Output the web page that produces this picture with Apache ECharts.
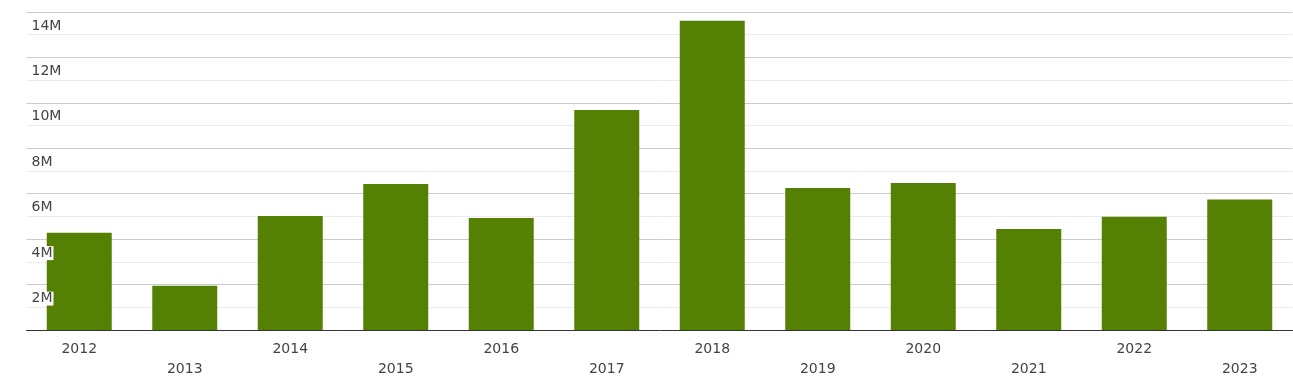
<!DOCTYPE html>
<html><head><meta charset="utf-8">
<script src="https://cdn.jsdelivr.net/npm/echarts@6/dist/echarts.min.js"></script>
<style>html,body{margin:0;padding:0;background:#fff}#c{width:1293px;height:384px}</style>
</head><body><div id="c"></div>
<script>
const categories = ['2012','2013','2014','2015','2016','2017','2018','2019','2020','2021','2022','2023'];
const values = [4280000, 1950000, 5020000, 6430000, 4930000, 9690000, 13620000, 6250000, 6470000, 4450000, 4990000, 5740000];
const yTicks = [0, 2000000, 4000000, 6000000, 8000000, 10000000, 12000000, 14000000];
const yTickLabels = ['', '2M', '4M', '6M', '8M', '10M', '12M', '14M'];

const yMax = yTicks[yTicks.length - 1];
const yStep = yTicks[1] - yTicks[0];
const chart = echarts.init(document.getElementById('c'), null, {renderer: 'canvas'});
chart.setOption({
  animation: false,
  grid: {left: 26.5, right: 0.5, top: 12, bottom: 54, containLabel: false},
  xAxis: {
    type: 'category',
    data: categories,
    z: 4,
    axisLine: {show: true, lineStyle: {color: '#333', width: 1}},
    axisTick: {show: false},
    axisLabel: {
      interval: 0,
      color: '#444',
      fontFamily: 'DejaVu Sans',
      fontSize: 14,
      lineHeight: 20,
      margin: 9,
      formatter: function (v, i) { return (i % 2 ? '\n' : '') + v; }
    }
  },
  yAxis: [{
    type: 'value',
    min: 0, max: yMax, interval: yStep,
    axisLine: {show: false},
    axisTick: {show: false},
    axisLabel: {show: false},
    splitLine: {show: true, lineStyle: {color: '#cccccc', width: 1}},
    minorTick: {show: false, splitNumber: 2},
    minorSplitLine: {show: true, lineStyle: {color: '#ebebeb', width: 1}},
    z: 0
  }, {
    type: 'value',
    position: 'left',
    min: 0, max: yMax, interval: yStep,
    axisLine: {show: false},
    axisTick: {show: false},
    splitLine: {show: false},
    axisLabel: {
      inside: true,
      margin: 5,
      verticalAlign: 'top',
      padding: [7, 0, 0, 0],
      formatter: function (v) {
        const idx = yTicks.indexOf(v);
        const t = idx >= 0 ? yTickLabels[idx] : '';
        return t ? '{v|' + t + '}' : '';
      },
      rich: {
        v: {
          color: '#444',
          fontFamily: 'DejaVu Sans',
          fontSize: 14,
          backgroundColor: '#fff',
          padding: [0, 1, 0, 0]
        }
      }
    },
    z: 10
  }],
  series: [{
    type: 'bar',
    yAxisIndex: 0,
    data: values,
    barWidth: '61.6%',
    itemStyle: {color: '#548003'},
    z: 2
  }]
});
</script></body></html>
